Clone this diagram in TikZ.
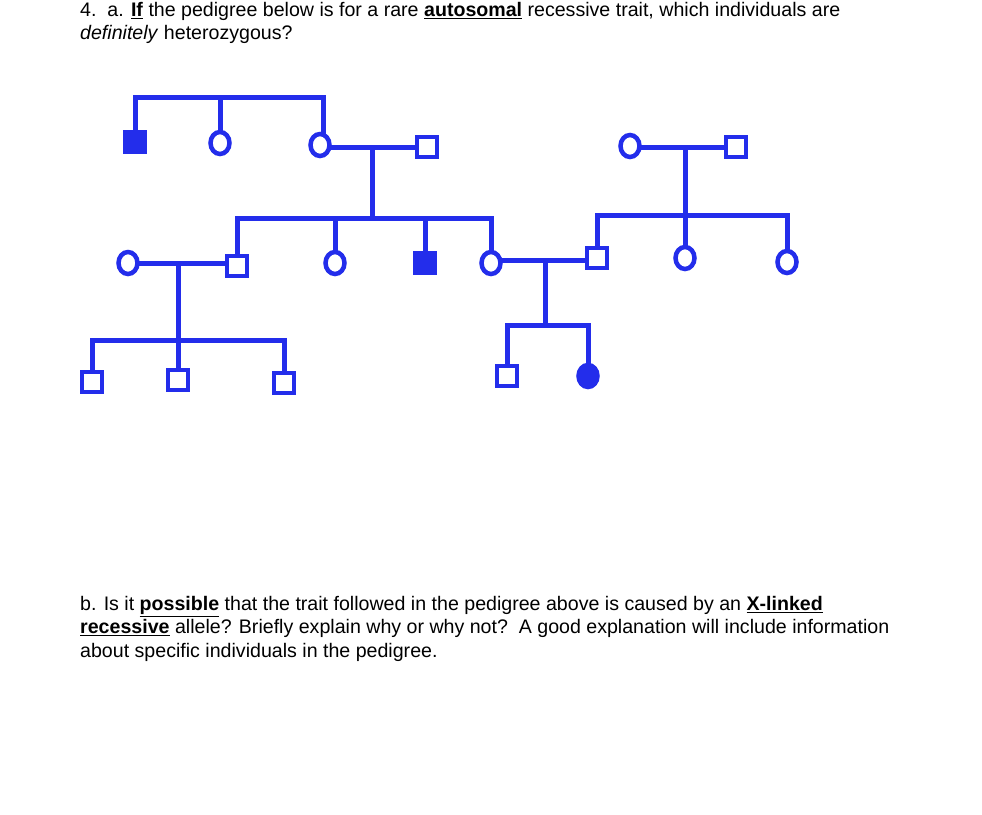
\documentclass[tikz,border=0pt]{standalone}
\usepackage{fontspec}
\setmainfont{Liberation Sans}
\begin{document}
\begin{tikzpicture}[x=1pt,y=-1pt,
  ln/.style={draw=pblue,line width=5pt},
  sq/.style={draw=pblue,line width=4.5pt,fill=white,minimum size=20pt,inner sep=0pt},
  sqf/.style={sq,fill=pblue},
  ci/.style={draw=pblue,line width=4.5pt,fill=white,ellipse,inner sep=0pt},
  cif/.style={ci,fill=pblue},
  txt/.style={anchor=north west,inner sep=0pt,font=\fontsize{19.6}{23.5}\selectfont,align=left}]
\definecolor{pblue}{RGB}{35,45,235}
\useasboundingbox[fill=white] (0,0) rectangle (982,814);
\pgfdeclareshape{ellipse}{\inheritsavedanchors[from=circle]\inheritanchorborder[from=circle]\inheritanchor[from=circle]{center}\inheritanchor[from=circle]{north}\inheritanchor[from=circle]{south}\backgroundpath{\pgfpathellipse{\centerpoint}{\pgfpoint{9.5pt}{0pt}}{\pgfpoint{0pt}{11pt}}}}
% lines
\coordinate (b1l) at (135,97); \coordinate (b1r) at (323,97);
\draw[ln] (135,142) -- (b1l) -- (b1r) -- (323,145);
\draw[ln] (220,97) -- (220,143);
\draw[ln] (320,147) -- (427,147); \draw[ln] (372,147) -- (372,218);
\draw[ln] (630,147) -- (736,147); \draw[ln] (685,147) -- (685,215);
\draw[ln] (237,266) -- (237,218) -- (491,218) -- (491,263);
\draw[ln] (335,218) -- (335,263); \draw[ln] (425,218) -- (425,263);
\draw[ln] (128,263) -- (237,263); \draw[ln] (178,263) -- (178,340);
\draw[ln] (597,258) -- (597,215) -- (787,215) -- (787,262);
\draw[ln] (685,215) -- (685,258);
\draw[ln] (491,260) -- (597,260); \draw[ln] (545,260) -- (545,325);
\draw[ln] (92,380) -- (92,340) -- (284,340) -- (284,382); \draw[ln] (178,340) -- (178,380);
\draw[ln] (507,376) -- (507,325) -- (588,325) -- (588,376);
% individuals
\node[sqf] (i1) at (135,142) {};
\node[ci] (i2) at (220,143) {};
\node[ci] (i3) at (320,145) {};
\node[sq] (i4) at (427,147) {};
\node[ci] (i5) at (630,146) {};
\node[sq] (i6) at (736,147) {};
\node[ci] (ii1) at (128,263) {};
\node[sq] (ii2) at (237,266) {};
\node[ci] (ii3) at (335,263) {};
\node[sqf] (ii4) at (425,263) {};
\node[ci] (ii5) at (491,263) {};
\node[sq] (ii6) at (597,258) {};
\node[ci] (ii7) at (685,258) {};
\node[ci] (ii8) at (787,262) {};
\node[sq] (iii1) at (92,382) {};
\node[sq] (iii2) at (178,380) {};
\node[sq] (iii3) at (284,383) {};
\node[sq] (iii4) at (507,376) {};
\node[cif] (iii5) at (588,376) {};
% text
\node[txt] (qa) at (80,2) {4.\ \ a. \underline{\textbf{If}} the pedigree below is for a rare \underline{\textbf{autosomal}} recessive trait, which individuals are\\\textit{definitely} heterozygous?};
\node[txt] (qb) at (80,596) {b. Is it \underline{\textbf{possible}} that the trait followed in the pedigree above is caused by an \underline{\textbf{X-linked}}\\\underline{\textbf{recessive}} allele? Briefly explain why or why not?\ \ A good explanation will include information\\about specific individuals in the pedigree.};
\end{tikzpicture}
\end{document}
